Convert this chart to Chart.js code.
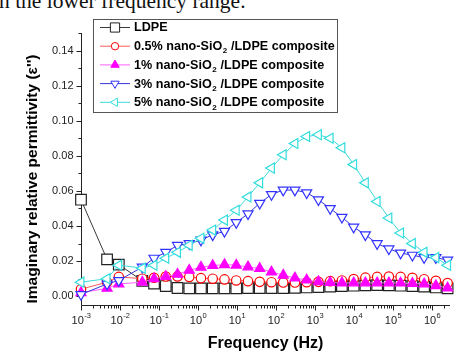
<!DOCTYPE html>
<html>
<head>
<meta charset="utf-8">
<script src="https://cdn.jsdelivr.net/npm/chart.js@4.4.1/dist/chart.umd.min.js"></script>
<style>
  html, body { margin: 0; padding: 0; background: #fff; overflow: hidden; }
  #wrap { position: relative; width: 474px; height: 362px; }
  #caption {
    position: absolute; left: -1px; top: -9px; white-space: nowrap;
    font: 21.5px/20px "Liberation Serif", "Times New Roman", serif; color: #111;
  }
  canvas { position: absolute; left: 0; top: 0; }
</style>
</head>
<body>
<div id="wrap">
  <div id="caption">n the lower frequency range.</div>
  <canvas id="chart" width="474" height="362"></canvas>
</div>
<script>
// frequency points (Hz)
const freq = [0.001, 0.00466, 0.00931, 0.0373, 0.0745, 0.149, 0.298, 0.596, 1.19, 2.38,
  4.77, 9.54, 19.1, 38.1, 76.3, 153, 305, 610, 1220, 2440,
  4880, 9770, 19500, 39100, 78100, 156000, 313000, 625000, 1250000, 2500000];

const ldpe = [0.055, 0.021, 0.018, 0.0088, 0.0072, 0.0058, 0.0047, 0.0045, 0.0045, 0.0045,
  0.0045, 0.0045, 0.0046, 0.0046, 0.0047, 0.0047, 0.0048, 0.005, 0.0052, 0.0055,
  0.0058, 0.006, 0.0062, 0.0063, 0.0062, 0.006, 0.0058, 0.0055, 0.005, 0.0045];

const sio05 = [0.004, 0.008, 0.011, 0.010, 0.0105, 0.0112, 0.0113, 0.011, 0.0103, 0.010,
  0.0096, 0.009, 0.0086, 0.0082, 0.008, 0.0078, 0.0078, 0.008, 0.0082, 0.0086,
  0.009, 0.0098, 0.0106, 0.011, 0.0112, 0.011, 0.0105, 0.0097, 0.0088, 0.0075];

const sio1 = [0.002, 0.0045, 0.007, 0.008, 0.010, 0.0112, 0.0125, 0.0148, 0.0165, 0.0175,
  0.018, 0.0177, 0.0167, 0.0158, 0.0138, 0.012, 0.0104, 0.0092, 0.0083, 0.0078,
  0.0076, 0.0076, 0.0076, 0.0076, 0.0076, 0.0075, 0.0073, 0.007, 0.006, 0.0047];

const sio3 = [0.001, 0.007, 0.009, 0.0166, 0.0217, 0.025, 0.029, 0.030, 0.032, 0.035,
  0.037, 0.042, 0.047, 0.053, 0.058, 0.0605, 0.0605, 0.059, 0.055, 0.050,
  0.045, 0.0394, 0.035, 0.030, 0.027, 0.0246, 0.0234, 0.022, 0.022, 0.0206];

const sio5 = [0.008, 0.010, 0.0177, 0.016, 0.0177, 0.0217, 0.025, 0.029, 0.033, 0.0377,
  0.0434, 0.049, 0.0566, 0.0646, 0.073, 0.0806, 0.087, 0.091, 0.092, 0.090,
  0.0846, 0.075, 0.0646, 0.054, 0.0446, 0.036, 0.030, 0.025, 0.022, 0.0177];

const seriesNames = ['LDPE', '0.5% nano-SiO\u2082 /LDPE composite', '1% nano-SiO\u2082 /LDPE composite',
  '3% nano-SiO\u2082 /LDPE composite', '5% nano-SiO\u2082 /LDPE composite'];

const xTickExps = [-3, -2, -1, 0, 1, 2, 3, 4, 5, 6];
const yTicks = [0, 0.02, 0.04, 0.06, 0.08, 0.10, 0.12, 0.14];

const FONT = '"Liberation Sans", Arial, sans-serif';

function pts(vals) {
  return freq.map((f, i) => ({ x: f, y: vals[i] }));
}

const styles = [
  { line: '#3a3a3a', edge: '#222', fill: '#fff', shape: 'rect', rot: 0, r: 7.5 },
  { line: '#ff5a5a', edge: '#ff0000', fill: '#fff', shape: 'circle', rot: 0, r: 4.7 },
  { line: '#ff60ff', edge: '#ff00ff', fill: '#ff00ff', shape: 'triangle', rot: 0, r: 5.8 },
  { line: '#3434d8', edge: '#3333ff', fill: '#fff', shape: 'triangle', rot: 180, r: 5.8 },
  { line: '#40dada', edge: '#33dddd', fill: '#fff', shape: 'triangle', rot: 270, r: 5.8 }
];

const allVals = [ldpe, sio05, sio1, sio3, sio5];

const datasets = allVals.map((vals, i) => ({
  label: seriesNames[i],
  data: pts(vals),
  borderColor: styles[i].line,
  borderWidth: 1,
  pointStyle: styles[i].shape,
  pointRotation: styles[i].rot,
  pointRadius: styles[i].r,
  pointBorderColor: styles[i].edge,
  pointBackgroundColor: styles[i].fill,
  pointBorderWidth: 1.2,
  tension: 0,
  clip: false,
  order: 5 - i
}));

// axes, ticks and labels drawn from the chart scales
const axesPlugin = {
  id: 'axes',
  beforeDatasetsDraw(chart) {
    const ctx = chart.ctx;
    const xs = chart.scales.x, ys = chart.scales.y;
    const a = chart.chartArea;
    const L = Math.round(a.left) + 0.5, B = Math.round(a.bottom) + 0.5;
    ctx.save();
    ctx.strokeStyle = '#222';
    ctx.lineWidth = 1;
    ctx.beginPath();
    ctx.moveTo(L, a.top); ctx.lineTo(L, B); ctx.lineTo(a.right, B);
    // y ticks
    for (let v = 0; v <= 0.1501; v += 0.01) {
      const y = Math.round(ys.getPixelForValue(v)) + 0.5;
      const major = Math.round(v * 100) % 2 === 0;
      ctx.moveTo(L - (major ? 5 : 3), y); ctx.lineTo(L, y);
    }
    // x ticks
    for (const e of xTickExps) {
      for (let m = 1; m <= 9; m++) {
        const f = m * Math.pow(10, e);
        if (f > xs.max) break;
        const x = Math.round(xs.getPixelForValue(f)) + 0.5;
        ctx.moveTo(x, B); ctx.lineTo(x, B + (m === 1 ? 5 : 3));
      }
    }
    ctx.stroke();

    ctx.fillStyle = '#222';
    ctx.font = '11px ' + FONT;
    ctx.textAlign = 'right';
    ctx.textBaseline = 'middle';
    yTicks.forEach(v => {
      ctx.fillText(v.toFixed(2), L - 8, ys.getPixelForValue(v));
    });

    ctx.textAlign = 'left';
    ctx.textBaseline = 'alphabetic';
    xTickExps.forEach(e => {
      const x = xs.getPixelForValue(Math.pow(10, e));
      ctx.font = '11px ' + FONT;
      const w1 = ctx.measureText('10').width;
      ctx.font = '7.5px ' + FONT;
      const sup = String(e);
      const w2 = ctx.measureText(sup).width;
      const x0 = x - (w1 + w2) / 2;
      ctx.font = '11px ' + FONT;
      ctx.fillText('10', x0, 324);
      ctx.font = '7.5px ' + FONT;
      ctx.fillText(sup, x0 + w1 + 0.5, 318);
    });

    // axis titles
    ctx.font = 'bold 16px ' + FONT;
    ctx.textAlign = 'center';
    ctx.fillStyle = '#000';
    ctx.fillText('Frequency (Hz)', (a.left + a.right) / 2, 348);
    ctx.font = 'bold 15.5px ' + FONT;
    ctx.save();
    ctx.translate(37, 179);
    ctx.rotate(-Math.PI / 2);
    ctx.fillText('Imaginary relative permittivity (\u03b5\'\')', 0, 0);
    ctx.restore();
    ctx.restore();
  }
};

// legend box inside the plot
const legendPlugin = {
  id: 'boxLegend',
  afterDraw(chart) {
    const ctx = chart.ctx;
    ctx.save();
    ctx.strokeStyle = '#555';
    ctx.lineWidth = 1;
    ctx.strokeRect(93.5, 19.5, 244, 93);
    chart.data.datasets.forEach((ds, i) => {
      const y = 27 + 18.7 * i;
      ctx.strokeStyle = ds.borderColor;
      ctx.lineWidth = 1;
      ctx.beginPath();
      ctx.moveTo(100, y + 0.5); ctx.lineTo(130, y + 0.5);
      ctx.stroke();
      ctx.strokeStyle = ds.pointBorderColor;
      ctx.fillStyle = ds.pointBackgroundColor;
      Chart.helpers.drawPoint(ctx, {
        pointStyle: ds.pointStyle, rotation: ds.pointRotation,
        radius: ds.pointRadius - 1, borderWidth: 1.2
      }, 115, y + 0.5);
      ctx.fillStyle = '#000';
      ctx.textBaseline = 'middle';
      ctx.textAlign = 'left';
      const parts = ds.label.split('\u2082');
      let x = 134;
      ctx.font = 'bold 12.6px ' + FONT;
      ctx.fillText(parts[0], x, y + 1);
      x += ctx.measureText(parts[0]).width;
      if (parts.length > 1) {
        ctx.font = 'bold 8px ' + FONT;
        ctx.fillText('2', x + 0.5, y + 5.5);
        x += ctx.measureText('2').width + 1;
        ctx.font = 'bold 12.6px ' + FONT;
        ctx.fillText(parts[1], x, y + 1);
      }
    });
    ctx.restore();
  }
};

new Chart(document.getElementById('chart'), {
  type: 'line',
  data: { datasets: datasets },
  options: {
    responsive: false,
    animation: false,
    devicePixelRatio: 1,
    layout: { padding: { left: 81, right: 24, top: 33, bottom: 57 } },
    plugins: { legend: { display: false }, tooltip: { enabled: false } },
    scales: {
      x: { type: 'logarithmic', min: 0.001, max: 2.88e6, display: false },
      y: { type: 'linear', min: -0.005, max: 0.150, display: false }
    }
  },
  plugins: [axesPlugin, legendPlugin]
});
</script>
</body>
</html>
